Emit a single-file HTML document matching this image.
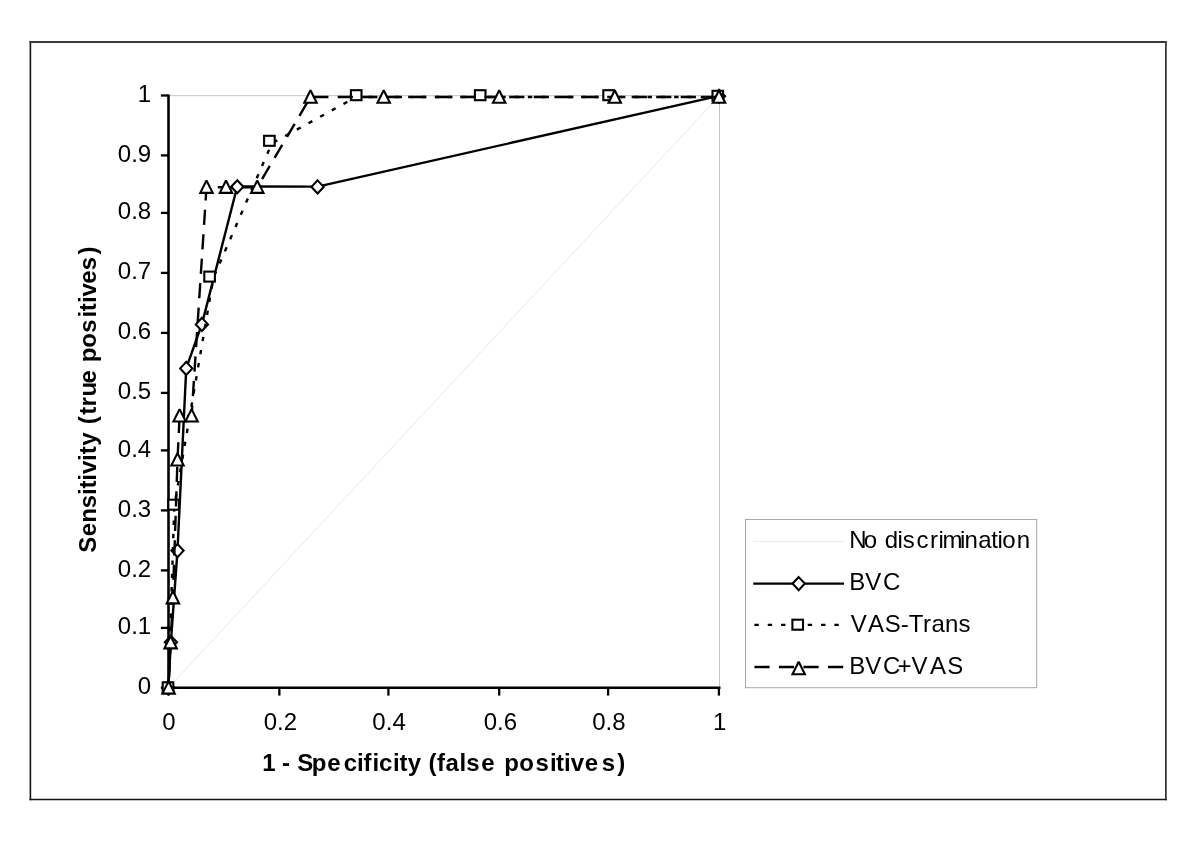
<!DOCTYPE html>
<html lang="en"><head><meta charset="utf-8"><title>ROC curves</title>
<style>
html,body{margin:0;padding:0;background:#fff;}
body{width:1200px;height:844px;overflow:hidden;font-family:"Liberation Sans", sans-serif;}
svg{display:block;}
text{font-family:"Liberation Sans", sans-serif;fill:#000;font-kerning:none;}
.tick{font-size:24px;}
.ttl{font-size:24px;font-weight:bold;}
.leg{font-size:24px;}
.mk{fill:#fff;stroke:#000;stroke-width:2.10;stroke-linejoin:miter;stroke-miterlimit:2.1;}
.ln{fill:none;stroke:#000;stroke-width:2.40;stroke-linejoin:round;}
</style></head><body>
<svg width="1200" height="844" viewBox="0 0 1200 844">
<rect x="0" y="0" width="1200" height="844" fill="#fff"/>
<path d="M30.4 41.1 V800.2" fill="none" stroke="#141414" stroke-width="1.6"/>
<path d="M1165.9 41.1 V800.2" fill="none" stroke="#141414" stroke-width="1.5"/>
<path d="M29.6 42 H1166.6" fill="none" stroke="#3a3a3a" stroke-width="1.9"/>
<path d="M29.6 799.5 H1166.6" fill="none" stroke="#141414" stroke-width="1.5"/>
<path d="M168.5 95.7 H719.5 V687.7" fill="none" stroke="#c4c4c4" stroke-width="1"/>
<line x1="168.5" y1="687.7" x2="719.5" y2="95.7" stroke="#e7e7e7" stroke-width="1"/>
<g stroke="#000" stroke-width="2.6" fill="none">
<line x1="168.5" y1="94.5" x2="168.5" y2="689.0"/>
<line x1="167.2" y1="687.7" x2="720.5" y2="687.7"/>
</g>
<g stroke="#000" stroke-width="2.3" fill="none">
<line x1="160.9" y1="687.90" x2="168.5" y2="687.90"/>
<line x1="160.9" y1="627.90" x2="168.5" y2="627.90"/>
<line x1="160.9" y1="570.40" x2="168.5" y2="570.40"/>
<line x1="160.9" y1="510.40" x2="168.5" y2="510.40"/>
<line x1="160.9" y1="450.40" x2="168.5" y2="450.40"/>
<line x1="160.9" y1="392.90" x2="168.5" y2="392.90"/>
<line x1="160.9" y1="332.90" x2="168.5" y2="332.90"/>
<line x1="160.9" y1="272.90" x2="168.5" y2="272.90"/>
<line x1="160.9" y1="212.90" x2="168.5" y2="212.90"/>
<line x1="160.9" y1="155.40" x2="168.5" y2="155.40"/>
<line x1="160.9" y1="95.50" x2="168.5" y2="95.50"/>
<line x1="168.50" y1="687.7" x2="168.50" y2="695.6"/>
<line x1="279.35" y1="687.7" x2="279.35" y2="695.6"/>
<line x1="388.40" y1="687.7" x2="388.40" y2="695.6"/>
<line x1="499.20" y1="687.7" x2="499.20" y2="695.6"/>
<line x1="608.10" y1="687.7" x2="608.10" y2="695.6"/>
<line x1="718.90" y1="687.7" x2="718.90" y2="695.6"/>
</g>
<g class="tick" text-anchor="end">
<text x="151.2" y="694.10">0</text>
<text x="151.2" y="634.10">0.1</text>
<text x="151.2" y="576.60">0.2</text>
<text x="151.2" y="516.60">0.3</text>
<text x="151.2" y="456.60">0.4</text>
<text x="151.2" y="399.10">0.5</text>
<text x="151.2" y="339.10">0.6</text>
<text x="151.2" y="279.10">0.7</text>
<text x="151.2" y="219.10">0.8</text>
<text x="151.2" y="161.60">0.9</text>
<text x="151.2" y="101.70">1</text>
</g>
<g class="tick">
<text x="162.16" y="729.6">0</text>
<text x="263.66" y="729.6">0.2</text>
<text x="372.36" y="729.6">0.4</text>
<text x="483.66" y="729.6">0.6</text>
<text x="592.16" y="729.6">0.8</text>
<text x="712.97" y="729.6">1</text>
</g>
<text class="ttl" x="262.19 275.54 282.06 290.05 297.31 311.72 327.36 343.76 357.02 363.59 372.52 379.06 393.02 399.41 407.81 421.16 428.50 437.09 445.60 459.62 466.16 481.26 494.61 504.22 519.36 535.46 550.02 556.01 564.12 570.71 584.86 601.66 617.18" y="770.5">1 - Specificity (false positives)</text>
<text class="ttl" transform="translate(96,0) rotate(-90)" x="-552.79 -536.24 -522.78 -508.34 -494.93 -488.39 -480.68 -474.09 -460.98 -454.29 -445.69 -432.34 -424.30 -414.79 -406.48 -396.49 -383.44 -370.09 -362.28 -347.74 -332.74 -317.58 -311.19 -302.98 -296.59 -283.64 -270.14 -254.42" y="0">Sensitivity (true positives)</text>
<polyline class="ln" points="168.30,687.30 170.90,641.90 177.50,550.30 186.25,368.10 201.90,324.10 237.25,186.50 317.60,186.60 719.00,95.90"/>
<g class="mk"><polygon points="168.30,681.10 174.40,687.60 168.30,694.10 162.20,687.60"/><polygon points="170.90,635.70 177.00,642.20 170.90,648.70 164.80,642.20"/><polygon points="177.50,544.10 183.60,550.60 177.50,557.10 171.40,550.60"/><polygon points="186.25,361.90 192.35,368.40 186.25,374.90 180.15,368.40"/><polygon points="201.90,317.90 208.00,324.40 201.90,330.90 195.80,324.40"/><polygon points="237.25,180.30 243.35,186.80 237.25,193.30 231.15,186.80"/><polygon points="317.60,180.40 323.70,186.90 317.60,193.40 311.50,186.90"/><polygon points="719.00,89.70 725.10,96.20 719.00,102.70 712.90,96.20"/></g>
<polyline class="ln" stroke-dasharray="4.4 8.9" stroke-dashoffset="9.77" points="168.50,688.00 174.30,506.00 213.50,277.50 271.90,143.30 356.20,97.00 480.20,97.00 608.60,97.00 719.00,97.00"/>
<g class="mk"><rect x="162.70" y="682.30" width="10.60" height="10.00"/><rect x="168.30" y="499.70" width="10.60" height="10.00"/><rect x="204.30" y="271.60" width="10.60" height="10.00"/><rect x="264.10" y="135.80" width="10.60" height="10.00"/><rect x="350.90" y="90.20" width="10.60" height="10.00"/><rect x="474.90" y="90.20" width="10.60" height="10.00"/><rect x="603.30" y="90.20" width="10.60" height="10.00"/><rect x="712.50" y="90.80" width="10.60" height="10.00"/></g>
<polyline class="ln" stroke-dasharray="15.2 9.3" stroke-dashoffset="14.34" points="168.60,687.95 170.60,642.75 172.90,597.75 177.50,459.85 179.60,415.85 191.60,415.85 206.50,187.25 226.00,187.25 257.25,187.25 310.50,97.00 383.70,97.00 499.20,97.00 614.75,97.00 719.00,97.00"/>
<g class="mk"><polygon points="168.60,681.20 174.80,693.60 162.40,693.60"/><polygon points="170.60,636.00 176.80,648.40 164.40,648.40"/><polygon points="172.90,591.00 179.10,603.40 166.70,603.40"/><polygon points="177.50,453.10 183.70,465.50 171.30,465.50"/><polygon points="179.60,409.10 185.80,421.50 173.40,421.50"/><polygon points="191.60,409.10 197.80,421.50 185.40,421.50"/><polygon points="206.50,180.50 212.70,192.90 200.30,192.90"/><polygon points="226.00,180.50 232.20,192.90 219.80,192.90"/><polygon points="257.25,180.50 263.45,192.90 251.05,192.90"/><polygon points="310.50,90.30 316.70,102.70 304.30,102.70"/><polygon points="383.70,90.30 389.90,102.70 377.50,102.70"/><polygon points="499.20,90.30 505.40,102.70 493.00,102.70"/><polygon points="614.75,90.30 620.95,102.70 608.55,102.70"/><polygon points="719.00,90.30 725.20,102.70 712.80,102.70"/></g>
<rect x="745.5" y="519.5" width="291.2" height="168.2" fill="#fff" stroke="#a8a8a8" stroke-width="1"/>
<line x1="753" y1="541.6" x2="844.5" y2="541.6" stroke="#e9e9e9" stroke-width="1"/>
<line class="ln" x1="753.3" y1="583.6" x2="844" y2="583.6"/>
<line class="ln" stroke-dasharray="4.4 8.93" x1="754.4" y1="624.9" x2="844" y2="624.9"/>
<line class="ln" stroke-dasharray="15.2 9.33" x1="754.4" y1="667.0" x2="844" y2="667.0"/>
<g class="mk"><polygon points="798.70,577.10 804.80,583.60 798.70,590.10 792.60,583.60"/><rect x="792.40" y="619.70" width="10.60" height="10.00"/><polygon points="798.70,661.80 804.90,674.20 792.50,674.20"/></g>
<g class="leg">
<text x="849.33 863.69 877.04 884.79 897.59 902.63 916.48 930.11 938.39 942.61 960.09 964.61 978.18 991.34 997.59 1002.29 1016.71" y="548.2">No discrimination</text>
<text x="849.33 865.19 882.98" y="590">BVC</text>
<text x="850.69 867.95 884.71 900.63 908.66 923.11 931.48 945.11 958.53" y="631.6">VAS-Trans</text>
<text x="849.33 865.19 882.98 897.53 911.59 929.95 947.21" y="674">BVC+VAS</text>
</g>
</svg></body></html>
